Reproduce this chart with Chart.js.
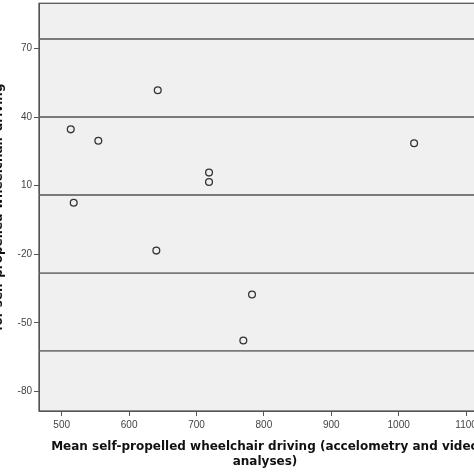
<!DOCTYPE html>
<html>
<head>
<meta charset="utf-8">
<script src="https://cdn.jsdelivr.net/npm/chart.js@4/dist/chart.umd.min.js"></script>
<style>
html, body { margin: 0; padding: 0; background: #fff; overflow: hidden; width: 474px; height: 474px; }
#wrap { position: absolute; left: -9px; top: -2px; }
</style>
</head>
<body>
<div id="wrap"><canvas id="plot" width="514" height="476"></canvas></div>
<script>
// mean (x) and difference (y) for each subject
const meanValues = [513.4, 554.3, 642.5, 517.8, 718.6, 718.6, 640.4, 782.4, 769.5, 1022.9]
const diffValues = [34.6, 29.6, 51.7, 2.5, 15.7, 11.6, -18.4, -37.6, -57.7, 28.5]
// horizontal reference lines (mean, +-1 SD, +-2 SD)
const refLines = [74.1, 40.0, 5.9, -28.2, -62.2]
const xTicks = [500, 600, 700, 800, 900, 1000, 1100]
const yTicks = [-80, -50, -20, 10, 40, 70]
const xMin = 466.3, xMax = 1137
const yMin = -88.5, yMax = 89.7

const points = []
for (let i = 0; i < meanValues.length; i++) {
    points.push({x: meanValues[i], y: diffValues[i]})
}

const lineSets = refLines.map(v => ({
    type: 'line',
    data: [{x: xMin, y: v}, {x: xMax, y: v}],
    borderColor: '#7a7a7a',
    borderWidth: 1.8,
    pointRadius: 0,
    fill: false
}))

const plotBox = {
    id: 'plotBox',
    beforeDraw(chart) {
        const a = chart.chartArea
        const ctx = chart.ctx
        ctx.save()
        ctx.fillStyle = '#f0f0f0'
        ctx.fillRect(a.left, a.top, a.right - a.left, a.bottom - a.top)
        ctx.restore()
    },
    afterDraw(chart) {
        const a = chart.chartArea
        const ctx = chart.ctx
        ctx.save()
        ctx.strokeStyle = '#555'
        ctx.lineWidth = 1.3
        ctx.strokeRect(a.left, a.top, a.right - a.left, a.bottom - a.top)
        ctx.restore()
    }
}

const tickFont = {family: 'Liberation Sans', size: 10}
const titleFont = {family: 'DejaVu Sans', size: 12, weight: 'bold', lineHeight: '15px'}

new Chart(document.querySelector('#plot'), {
    type: 'scatter',
    data: {
        datasets: [{
            data: points,
            pointRadius: 3.4,
            pointBorderWidth: 1.3,
            pointBorderColor: '#333',
            pointBackgroundColor: 'rgba(0,0,0,0)',
            order: 0
        }].concat(lineSets)
    },
    options: {
        responsive: false,
        animation: false,
        devicePixelRatio: 1,
        layout: {padding: {top: 1, right: 14, left: 0, bottom: 0}},
        plugins: {legend: {display: false}, tooltip: {enabled: false}},
        scales: {
            x: {
                type: 'linear',
                min: xMin,
                max: xMax,
                afterBuildTicks: s => { s.ticks = xTicks.map(v => ({value: v})) },
                afterFit: s => { s.height = 63; s.paddingLeft = 0; s.paddingRight = 0 },
                grid: {drawOnChartArea: false, drawTicks: true, tickLength: 5, color: '#555'},
                border: {display: true, color: '#555'},
                ticks: {font: tickFont, color: '#444', padding: 3, maxRotation: 0, callback: v => String(v)},
                title: {
                    display: true,
                    text: ['Mean self-propelled wheelchair driving (accelometry and video', 'analyses)'],
                    font: titleFont,
                    color: '#111',
                    padding: {top: 0, bottom: 4.5}
                }
            },
            y: {
                min: yMin,
                max: yMax,
                afterBuildTicks: s => { s.ticks = yTicks.map(v => ({value: v})) },
                afterFit: s => { s.width = 48; s.paddingTop = 0; s.paddingBottom = 0 },
                grid: {drawOnChartArea: false, drawTicks: true, tickLength: 5, color: '#555'},
                border: {display: true, color: '#555'},
                ticks: {font: tickFont, color: '#444', padding: 2, callback: v => String(v)},
                title: {
                    display: true,
                    text: 'for self-propelled wheelchair driving',
                    font: titleFont,
                    color: '#111',
                    padding: {top: 0, bottom: 0}
                }
            }
        }
    },
    plugins: [plotBox]
})
</script>
</body>
</html>
